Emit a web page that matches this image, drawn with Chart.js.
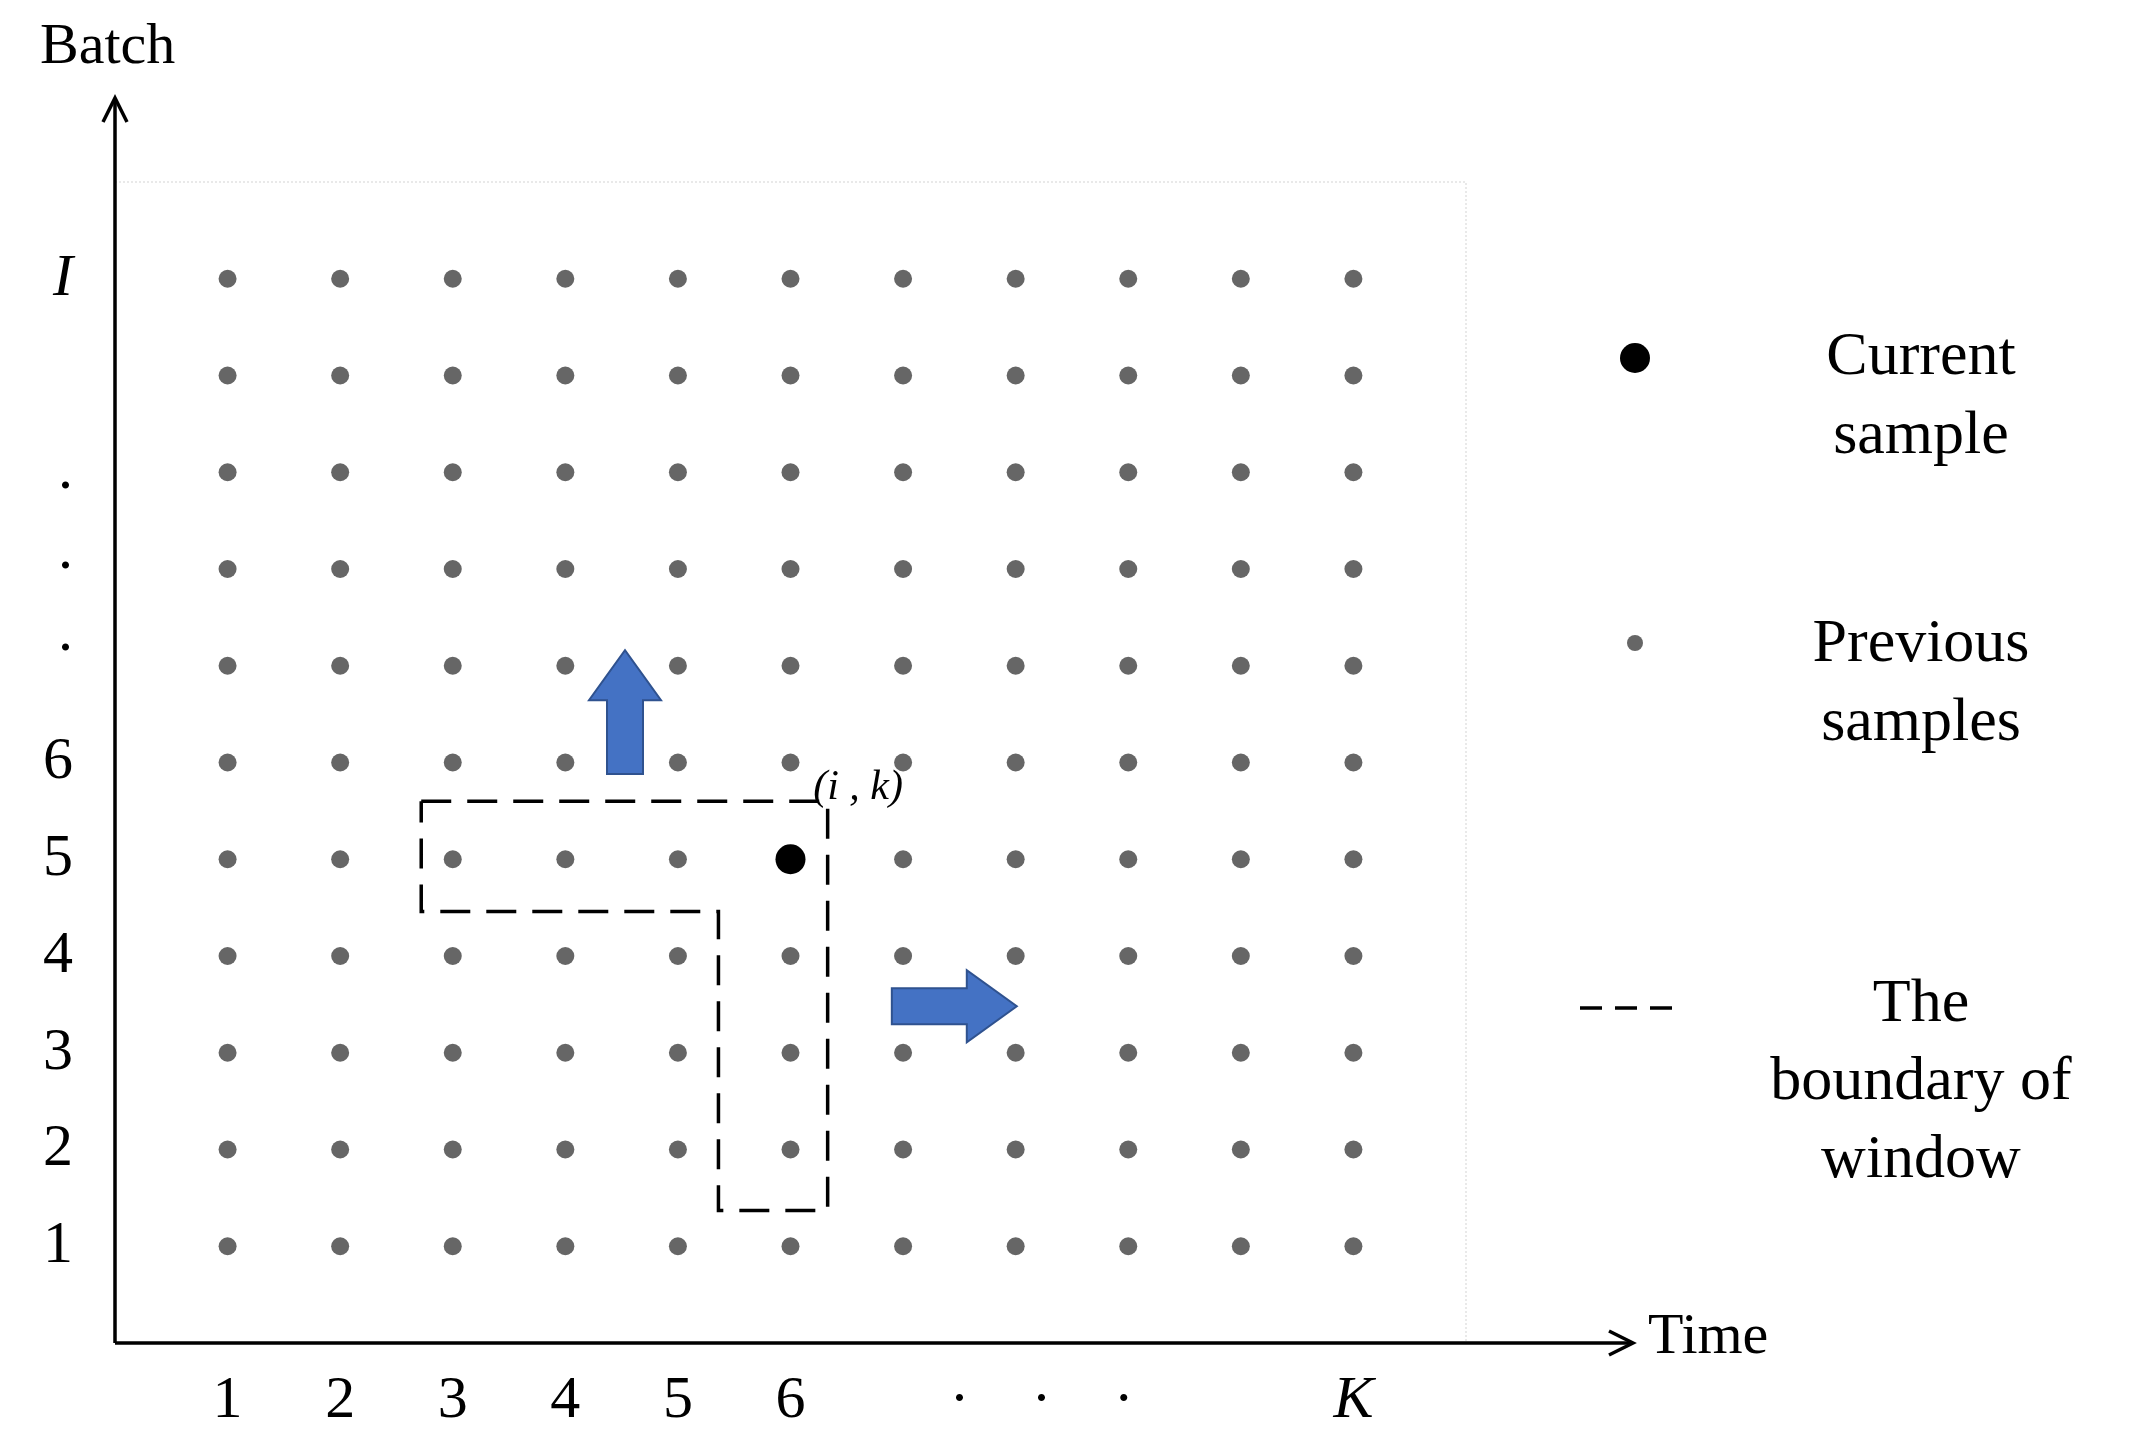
<!DOCTYPE html>
<html>
<head>
<meta charset="utf-8">
<script src="https://cdn.jsdelivr.net/npm/chart.js@4/dist/chart.umd.min.js"></script>
<style>
  body { margin: 0; background: #fff; }
  canvas { display: block; }
</style>
</head>
<body>
<canvas id="grid-canvas" width="2131" height="1444"></canvas>
<script>
// grid of samples: time index 1..11, batch index 1..11
var timeSteps = [1, 2, 3, 4, 5, 6, 7, 8, 9, 10, 11];
var batches = [1, 2, 3, 4, 5, 6, 7, 8, 9, 10, 11];
var currentSample = { x: 6, y: 5 };

// tick positions and labels
var xTickValues = [1, 2, 3, 4, 5, 6, 7.5, 8.23, 8.96, 11];
var xTickLabels = ['1', '2', '3', '4', '5', '6', '·', '·', '·', 'K'];
var yTickValues = [1, 2, 3, 4, 5, 6, 7.33, 8.17, 9, 11];
var yTickLabels = ['1', '2', '3', '4', '5', '6', '.', '.', '.', 'I'];

// window boundary (dashed L shape)
var windowX = [2.72, 6.33, 6.33, 5.36, 5.36, 2.72, 2.72];
var windowY = [5.60, 5.60, 1.37, 1.37, 4.46, 4.46, 5.60];

// moving direction arrows [x0, y0, x1, y1]
var arrowUp = [4.53, 5.88, 4.53, 7.16];
var arrowRight = [6.9, 3.48, 8.01, 3.48];

var previous = [];
batches.forEach(function(b) {
    timeSteps.forEach(function(t) {
        if (!(t === currentSample.x && b === currentSample.y)) previous.push({ x: t, y: b });
    });
});
var windowPts = windowX.map(function(x, i) { return { x: x, y: windowY[i] }; });

var serif = '"Liberation Serif", "DejaVu Serif", serif';

var decorations = {
    id: 'decorations',
    beforeDatasetsDraw: function(chart) {
        var c = chart.ctx, a = chart.chartArea;
        c.save();
        // faint frame
        c.strokeStyle = '#e2e2e2';
        c.lineWidth = 1.5;
        c.setLineDash([2, 2]);
        c.beginPath();
        c.moveTo(a.left, a.top);
        c.lineTo(a.right, a.top);
        c.lineTo(a.right, a.bottom);
        c.stroke();
        c.restore();
    },
    afterDatasetsDraw: function(chart) {
        var c = chart.ctx, a = chart.chartArea;
        var xs = chart.scales.x, ys = chart.scales.y;
        c.save();
        // axes with arrow heads
        c.strokeStyle = '#000';
        c.lineWidth = 3.5;
        c.beginPath();
        c.moveTo(a.left, a.bottom);
        c.lineTo(a.left, 98);
        c.moveTo(a.left, a.bottom);
        c.lineTo(1633, a.bottom);
        c.stroke();
        c.beginPath();
        c.moveTo(a.left - 12, 122); c.lineTo(a.left, 98); c.lineTo(a.left + 12, 122);
        c.moveTo(1609, a.bottom - 12); c.lineTo(1633, a.bottom); c.lineTo(1609, a.bottom + 12);
        c.stroke();

        // blue arrows
        function blockArrow(d) {
            var x0 = xs.getPixelForValue(d[0]), y0 = ys.getPixelForValue(d[1]);
            var x1 = xs.getPixelForValue(d[2]), y1 = ys.getPixelForValue(d[3]);
            var len = Math.hypot(x1 - x0, y1 - y0);
            var ang = Math.atan2(y1 - y0, x1 - x0);
            var sw = 18, hw = 36, hl = 50;
            c.save();
            c.translate(x0, y0);
            c.rotate(ang);
            c.beginPath();
            c.moveTo(0, -sw); c.lineTo(len - hl, -sw); c.lineTo(len - hl, -hw);
            c.lineTo(len, 0);
            c.lineTo(len - hl, hw); c.lineTo(len - hl, sw); c.lineTo(0, sw);
            c.closePath();
            c.fillStyle = '#4472c4';
            c.fill();
            c.strokeStyle = '#2f528f';
            c.lineWidth = 2;
            c.stroke();
            c.restore();
        }
        blockArrow(arrowUp);
        blockArrow(arrowRight);

        // (i , k) label
        c.fillStyle = '#000';
        c.font = 'italic 42px ' + serif;
        c.textAlign = 'center';
        c.textBaseline = 'middle';
        c.fillText('(i , k)', xs.getPixelForValue(6.6), ys.getPixelForValue(5.74));

        // axis titles
        c.font = '58px ' + serif;
        c.textAlign = 'left';
        c.fillText('Batch', 40, 48);
        c.fillText('Time', 1648, 1338);

        // legend
        c.beginPath();
        c.arc(1635, 358, 15, 0, Math.PI * 2);
        c.fillStyle = '#000';
        c.fill();
        c.beginPath();
        c.arc(1635, 643, 8, 0, Math.PI * 2);
        c.fillStyle = '#666';
        c.fill();
        c.strokeStyle = '#000';
        c.lineWidth = 3.5;
        c.setLineDash([22, 13]);
        c.beginPath();
        c.moveTo(1580, 1008);
        c.lineTo(1680, 1008);
        c.stroke();
        c.setLineDash([]);
        c.fillStyle = '#000';
        c.font = '62px ' + serif;
        c.textAlign = 'center';
        [['Current', 358], ['sample', 437], ['Previous', 645], ['samples', 724],
         ['The', 1005], ['boundary of', 1083], ['window', 1161]].forEach(function(t) {
            c.fillText(t[0], 1921, t[1]);
        });
        c.restore();
    }
};

new Chart(document.getElementById('grid-canvas').getContext('2d'), {
    type: 'scatter',
    data: {
        datasets: [
            {
                label: 'Previous samples',
                data: previous,
                pointRadius: 9,
                pointBackgroundColor: '#666',
                pointBorderWidth: 0
            },
            {
                label: 'Current sample',
                data: [currentSample],
                pointRadius: 15,
                pointBackgroundColor: '#000',
                pointBorderWidth: 0
            },
            {
                label: 'The boundary of window',
                data: windowPts,
                showLine: true,
                pointRadius: 0,
                borderColor: '#000',
                borderWidth: 3.5,
                borderDash: [30, 16],
                fill: false
            }
        ]
    },
    options: {
        responsive: false,
        animation: false,
        devicePixelRatio: 1,
        layout: { padding: { left: 0, top: 182, right: 665, bottom: 0 } },
        plugins: { legend: { display: false }, tooltip: { enabled: false } },
        scales: {
            x: {
                type: 'linear', min: 0, max: 12,
                grid: { display: false }, border: { display: false },
                afterBuildTicks: function(s) { s.ticks = xTickValues.map(function(v) { return { value: v }; }); },
                afterFit: function(s) { s.height = 101; },
                ticks: {
                    padding: 14,
                    color: '#000',
                    maxRotation: 0,
                    autoSkip: false,
                    font: function(ctx) {
                        var italic = ctx.tick && ctx.tick.value === 11;
                        return { family: serif, size: 60, style: italic ? 'italic' : 'normal' };
                    },
                    callback: function(v, i) { return xTickLabels[i]; }
                }
            },
            y: {
                type: 'linear', min: 0, max: 12,
                grid: { display: false }, border: { display: false },
                afterBuildTicks: function(s) { s.ticks = yTickValues.map(function(v) { return { value: v }; }); },
                afterFit: function(s) { s.width = 115; },
                ticks: {
                    padding: 34,
                    color: '#000',
                    autoSkip: false,
                    font: function(ctx) {
                        var italic = ctx.tick && ctx.tick.value === 11;
                        return { family: serif, size: 60, style: italic ? 'italic' : 'normal' };
                    },
                    callback: function(v, i) { return yTickLabels[i]; }
                }
            }
        }
    },
    plugins: [decorations]
});
</script>
</body>
</html>
